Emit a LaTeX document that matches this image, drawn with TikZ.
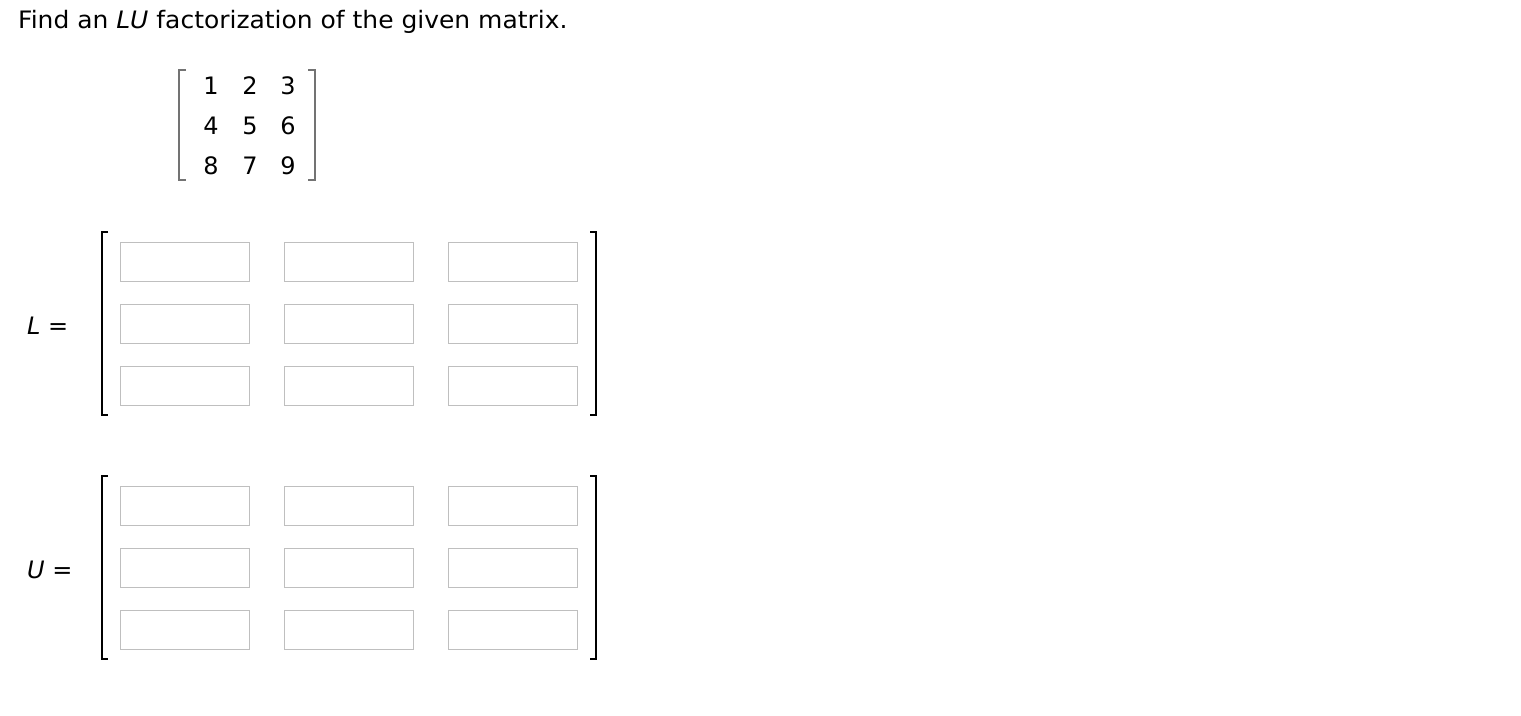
\documentclass[tikz,border=0pt]{standalone}
\usepackage{fontspec}
\setmainfont{DejaVu Sans}
\begin{document}
\begin{tikzpicture}[x=1pt,y=-1pt,
  txt/.style={font=\fontsize{24}{28}\selectfont,inner sep=0pt},
  ibox/.style={draw=black!25,line width=1.2pt,minimum width=129pt,minimum height=39pt,inner sep=0pt,anchor=north west},
  brk/.style={line width=2.2pt}]
\useasboundingbox (0,0) rectangle (1521,715);
\node[txt,anchor=west,xscale=1.04] (title) at (18,22) {Find an \textit{LU} factorization of the given matrix.};
% given matrix
\draw[brk,black!55] (186,70) -- (179,70) -- (179,180) -- (186,180);
\draw[brk,black!55] (308,70) -- (315,70) -- (315,180) -- (308,180);
\node[txt] (m11) at (211,86) {1}; \node[txt] (m12) at (250,86) {2}; \node[txt] (m13) at (288,86) {3};
\node[txt] (m21) at (211,126) {4}; \node[txt] (m22) at (250,126) {5}; \node[txt] (m23) at (288,126) {6};
\node[txt] (m31) at (211,166) {8}; \node[txt] (m32) at (250,166) {7}; \node[txt] (m33) at (288,166) {9};
% L and U
\foreach \n/\t/\lab in {L/232/L,U/476/U}{
  \draw[brk] (108,\t) -- (102,\t) -- ({102},{\t+183}) -- (108,{\t+183});
  \draw[brk] (590,\t) -- (596,\t) -- (596,{\t+183}) -- (590,{\t+183});
  \node[txt,anchor=west] (\n lab) at (27,{\t+94}) {\textit{\lab} =};
  \foreach \i in {0,1,2}{
    \foreach \j/\x in {0/120,1/284,2/448}{
      \node[ibox] (\n\i\j) at (\x,{\t+10+62*\i}) {};
    }
  }
}
\end{tikzpicture}
\end{document}
